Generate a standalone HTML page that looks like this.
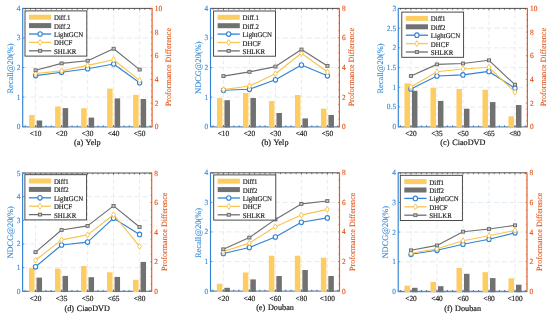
<!DOCTYPE html>
<html><head><meta charset="utf-8"><title>Performance difference charts</title>
<style>
html,body{margin:0;padding:0;background:#fff;}
body{width:550px;height:316px;overflow:hidden;}
svg{display:block;font-family:'Liberation Serif', 'Times New Roman', serif;text-rendering:geometricPrecision;filter:blur(0.35px);}
</style></head><body>
<svg width="550" height="316" viewBox="0 0 550 316">
<rect width="550" height="316" fill="#fff"/>
<g stroke="#e2e2e2" stroke-width="0.7" stroke-dasharray="4 2.5"><line x1="35.65" y1="8.4" x2="35.65" y2="126.7"/><line x1="61.65" y1="8.4" x2="61.65" y2="126.7"/><line x1="87.65" y1="8.4" x2="87.65" y2="126.7"/><line x1="113.65" y1="8.4" x2="113.65" y2="126.7"/><line x1="139.65" y1="8.4" x2="139.65" y2="126.7"/></g>
<g stroke="#d8e7f5" stroke-width="0.8" stroke-dasharray="5 3"><line x1="22.7" y1="97.12" x2="152.1" y2="97.12"/><line x1="22.7" y1="67.55" x2="152.1" y2="67.55"/><line x1="22.7" y1="37.98" x2="152.1" y2="37.98"/></g>
<line x1="22.7" y1="8.4" x2="152.1" y2="8.4" stroke="#3c3c3c" stroke-width="0.9"/>
<line x1="22.7" y1="126.8" x2="152.1" y2="126.8" stroke="#5a8cc6" stroke-width="1.3"/>
<g stroke="#3c3c3c" stroke-width="0.7"><line x1="25.25" y1="8.4" x2="25.25" y2="9.8"/><line x1="25.25" y1="126.7" x2="25.25" y2="125.3"/><line x1="30.45" y1="8.4" x2="30.45" y2="9.8"/><line x1="30.45" y1="126.7" x2="30.45" y2="125.3"/><line x1="35.65" y1="8.4" x2="35.65" y2="10.2"/><line x1="35.65" y1="126.7" x2="35.65" y2="124.9"/><line x1="40.85" y1="8.4" x2="40.85" y2="9.8"/><line x1="40.85" y1="126.7" x2="40.85" y2="125.3"/><line x1="46.05" y1="8.4" x2="46.05" y2="9.8"/><line x1="46.05" y1="126.7" x2="46.05" y2="125.3"/><line x1="51.25" y1="8.4" x2="51.25" y2="9.8"/><line x1="51.25" y1="126.7" x2="51.25" y2="125.3"/><line x1="56.45" y1="8.4" x2="56.45" y2="9.8"/><line x1="56.45" y1="126.7" x2="56.45" y2="125.3"/><line x1="61.65" y1="8.4" x2="61.65" y2="10.2"/><line x1="61.65" y1="126.7" x2="61.65" y2="124.9"/><line x1="66.85" y1="8.4" x2="66.85" y2="9.8"/><line x1="66.85" y1="126.7" x2="66.85" y2="125.3"/><line x1="72.05" y1="8.4" x2="72.05" y2="9.8"/><line x1="72.05" y1="126.7" x2="72.05" y2="125.3"/><line x1="77.25" y1="8.4" x2="77.25" y2="9.8"/><line x1="77.25" y1="126.7" x2="77.25" y2="125.3"/><line x1="82.45" y1="8.4" x2="82.45" y2="9.8"/><line x1="82.45" y1="126.7" x2="82.45" y2="125.3"/><line x1="87.65" y1="8.4" x2="87.65" y2="10.2"/><line x1="87.65" y1="126.7" x2="87.65" y2="124.9"/><line x1="92.85" y1="8.4" x2="92.85" y2="9.8"/><line x1="92.85" y1="126.7" x2="92.85" y2="125.3"/><line x1="98.05" y1="8.4" x2="98.05" y2="9.8"/><line x1="98.05" y1="126.7" x2="98.05" y2="125.3"/><line x1="103.25" y1="8.4" x2="103.25" y2="9.8"/><line x1="103.25" y1="126.7" x2="103.25" y2="125.3"/><line x1="108.45" y1="8.4" x2="108.45" y2="9.8"/><line x1="108.45" y1="126.7" x2="108.45" y2="125.3"/><line x1="113.65" y1="8.4" x2="113.65" y2="10.2"/><line x1="113.65" y1="126.7" x2="113.65" y2="124.9"/><line x1="118.85" y1="8.4" x2="118.85" y2="9.8"/><line x1="118.85" y1="126.7" x2="118.85" y2="125.3"/><line x1="124.05" y1="8.4" x2="124.05" y2="9.8"/><line x1="124.05" y1="126.7" x2="124.05" y2="125.3"/><line x1="129.25" y1="8.4" x2="129.25" y2="9.8"/><line x1="129.25" y1="126.7" x2="129.25" y2="125.3"/><line x1="134.45" y1="8.4" x2="134.45" y2="9.8"/><line x1="134.45" y1="126.7" x2="134.45" y2="125.3"/><line x1="139.65" y1="8.4" x2="139.65" y2="10.2"/><line x1="139.65" y1="126.7" x2="139.65" y2="124.9"/><line x1="144.85" y1="8.4" x2="144.85" y2="9.8"/><line x1="144.85" y1="126.7" x2="144.85" y2="125.3"/><line x1="150.05" y1="8.4" x2="150.05" y2="9.8"/><line x1="150.05" y1="126.7" x2="150.05" y2="125.3"/></g>
<rect x="29.15" y="115.1" width="5.5" height="12.4" fill="#fdcc63"/><rect x="36.65" y="120.5" width="5.5" height="7" fill="#717171"/><rect x="55.15" y="106.5" width="5.5" height="21" fill="#fdcc63"/><rect x="62.65" y="108.1" width="5.5" height="19.4" fill="#717171"/><rect x="81.15" y="108.2" width="5.5" height="19.3" fill="#fdcc63"/><rect x="88.65" y="117.6" width="5.5" height="9.9" fill="#717171"/><rect x="107.15" y="88.6" width="5.5" height="38.9" fill="#fdcc63"/><rect x="114.65" y="98.4" width="5.5" height="29.1" fill="#717171"/><rect x="133.15" y="94.8" width="5.5" height="32.7" fill="#fdcc63"/><rect x="140.65" y="99" width="5.5" height="28.5" fill="#717171"/>
<line x1="22.7" y1="8" x2="22.7" y2="127.2" stroke="#3283d3" stroke-width="1.15"/>
<g stroke="#3283d3" stroke-width="0.8"><line x1="22.7" y1="126.7" x2="24.3" y2="126.7"/><line x1="22.7" y1="97.12" x2="24.3" y2="97.12"/><line x1="22.7" y1="67.55" x2="24.3" y2="67.55"/><line x1="22.7" y1="37.98" x2="24.3" y2="37.98"/><line x1="22.7" y1="8.4" x2="24.3" y2="8.4"/></g>
<text transform="translate(20.5 129.2) scale(1 1.060)" fill="#3d8fd8" stroke="#3d8fd8" stroke-width="0.15" font-size="7.4" text-anchor="end">0</text>
<text transform="translate(20.5 99.62) scale(1 1.060)" fill="#3d8fd8" stroke="#3d8fd8" stroke-width="0.15" font-size="7.4" text-anchor="end">1</text>
<text transform="translate(20.5 70.05) scale(1 1.060)" fill="#3d8fd8" stroke="#3d8fd8" stroke-width="0.15" font-size="7.4" text-anchor="end">2</text>
<text transform="translate(20.5 40.48) scale(1 1.060)" fill="#3d8fd8" stroke="#3d8fd8" stroke-width="0.15" font-size="7.4" text-anchor="end">3</text>
<text transform="translate(20.5 10.9) scale(1 1.060)" fill="#3d8fd8" stroke="#3d8fd8" stroke-width="0.15" font-size="7.4" text-anchor="end">4</text>
<line x1="152.1" y1="8" x2="152.1" y2="127.2" stroke="#e05a22" stroke-width="1.15"/>
<g stroke="#e05a22" stroke-width="0.7"><line x1="152.1" y1="126.7" x2="150.5" y2="126.7"/><line x1="152.1" y1="120.78" x2="151" y2="120.78"/><line x1="152.1" y1="114.87" x2="151" y2="114.87"/><line x1="152.1" y1="108.96" x2="151" y2="108.96"/><line x1="152.1" y1="103.04" x2="150.5" y2="103.04"/><line x1="152.1" y1="97.12" x2="151" y2="97.12"/><line x1="152.1" y1="91.21" x2="151" y2="91.21"/><line x1="152.1" y1="85.3" x2="151" y2="85.3"/><line x1="152.1" y1="79.38" x2="150.5" y2="79.38"/><line x1="152.1" y1="73.47" x2="151" y2="73.47"/><line x1="152.1" y1="67.55" x2="151" y2="67.55"/><line x1="152.1" y1="61.64" x2="151" y2="61.64"/><line x1="152.1" y1="55.72" x2="150.5" y2="55.72"/><line x1="152.1" y1="49.81" x2="151" y2="49.81"/><line x1="152.1" y1="43.89" x2="151" y2="43.89"/><line x1="152.1" y1="37.98" x2="151" y2="37.98"/><line x1="152.1" y1="32.06" x2="150.5" y2="32.06"/><line x1="152.1" y1="26.15" x2="151" y2="26.15"/><line x1="152.1" y1="20.23" x2="151" y2="20.23"/><line x1="152.1" y1="14.32" x2="151" y2="14.32"/><line x1="152.1" y1="8.4" x2="150.5" y2="8.4"/></g>
<text transform="translate(154.7 129.2) scale(1 1.060)" fill="#e0561c" stroke="#e0561c" stroke-width="0.15" font-size="7.4">0</text>
<text transform="translate(154.7 105.54) scale(1 1.060)" fill="#e0561c" stroke="#e0561c" stroke-width="0.15" font-size="7.4">2</text>
<text transform="translate(154.7 81.88) scale(1 1.060)" fill="#e0561c" stroke="#e0561c" stroke-width="0.15" font-size="7.4">4</text>
<text transform="translate(154.7 58.22) scale(1 1.060)" fill="#e0561c" stroke="#e0561c" stroke-width="0.15" font-size="7.4">6</text>
<text transform="translate(154.7 34.56) scale(1 1.060)" fill="#e0561c" stroke="#e0561c" stroke-width="0.15" font-size="7.4">8</text>
<text transform="translate(154.7 10.9) scale(1 1.060)" fill="#e0561c" stroke="#e0561c" stroke-width="0.15" font-size="7.4">10</text>
<polyline points="35.65,75.6 61.65,72.2 87.65,68.7 113.65,64 139.65,82.7" fill="none" stroke="#3283d3" stroke-width="1.15" stroke-linejoin="round"/>
<ellipse cx="35.65" cy="75.6" rx="2.15" ry="2.3" fill="#fff" stroke="#3283d3" stroke-width="1.1"/><ellipse cx="61.65" cy="72.2" rx="2.15" ry="2.3" fill="#fff" stroke="#3283d3" stroke-width="1.1"/><ellipse cx="87.65" cy="68.7" rx="2.15" ry="2.3" fill="#fff" stroke="#3283d3" stroke-width="1.1"/><ellipse cx="113.65" cy="64" rx="2.15" ry="2.3" fill="#fff" stroke="#3283d3" stroke-width="1.1"/><ellipse cx="139.65" cy="82.7" rx="2.15" ry="2.3" fill="#fff" stroke="#3283d3" stroke-width="1.1"/>
<polyline points="35.65,73.5 61.65,70.9 87.65,65.4 113.65,59.8 139.65,80.4" fill="none" stroke="#f7c550" stroke-width="1.15" stroke-linejoin="round"/>
<path d="M35.65 70.6L37.6 73.5L35.65 76.4L33.7 73.5Z" fill="#fff" stroke="#f7c550" stroke-width="1.0"/><path d="M61.65 68L63.6 70.9L61.65 73.8L59.7 70.9Z" fill="#fff" stroke="#f7c550" stroke-width="1.0"/><path d="M87.65 62.5L89.6 65.4L87.65 68.3L85.7 65.4Z" fill="#fff" stroke="#f7c550" stroke-width="1.0"/><path d="M113.65 56.9L115.6 59.8L113.65 62.7L111.7 59.8Z" fill="#fff" stroke="#f7c550" stroke-width="1.0"/><path d="M139.65 77.5L141.6 80.4L139.65 83.3L137.7 80.4Z" fill="#fff" stroke="#f7c550" stroke-width="1.0"/>
<polyline points="35.65,70.3 61.65,63.4 87.65,60.7 113.65,48.7 139.65,69.6" fill="none" stroke="#6e6e6e" stroke-width="1.15" stroke-linejoin="round"/>
<rect x="34.1" y="68.9" width="3.1" height="2.8" fill="#c8c8c8" stroke="#6e6e6e" stroke-width="1.0"/><rect x="60.1" y="62" width="3.1" height="2.8" fill="#c8c8c8" stroke="#6e6e6e" stroke-width="1.0"/><rect x="86.1" y="59.3" width="3.1" height="2.8" fill="#c8c8c8" stroke="#6e6e6e" stroke-width="1.0"/><rect x="112.1" y="47.3" width="3.1" height="2.8" fill="#c8c8c8" stroke="#6e6e6e" stroke-width="1.0"/><rect x="138.1" y="68.2" width="3.1" height="2.8" fill="#c8c8c8" stroke="#6e6e6e" stroke-width="1.0"/>
<text transform="translate(35.65 136) scale(1 1.060)" fill="#202020" stroke="#202020" stroke-width="0.15" font-size="7.4" text-anchor="middle">&lt;10</text>
<text transform="translate(61.65 136) scale(1 1.060)" fill="#202020" stroke="#202020" stroke-width="0.15" font-size="7.4" text-anchor="middle">&lt;20</text>
<text transform="translate(87.65 136) scale(1 1.060)" fill="#202020" stroke="#202020" stroke-width="0.15" font-size="7.4" text-anchor="middle">&lt;30</text>
<text transform="translate(113.65 136) scale(1 1.060)" fill="#202020" stroke="#202020" stroke-width="0.15" font-size="7.4" text-anchor="middle">&lt;40</text>
<text transform="translate(139.65 136) scale(1 1.060)" fill="#202020" stroke="#202020" stroke-width="0.15" font-size="7.4" text-anchor="middle">&lt;50</text>
<text transform="translate(87.4 145)" fill="#202020" stroke="#202020" stroke-width="0.2" font-size="8.2" text-anchor="middle" word-spacing="0.7">(a) Yelp</text>
<text transform="translate(12.7 68.55) rotate(-90)" fill="#3d8fd8" stroke="#3d8fd8" stroke-width="0.12" font-size="8.4" text-anchor="middle">Recall@20(%)</text>
<text transform="translate(171.15 67.1) rotate(-90)" fill="#e0561c" stroke="#e0561c" stroke-width="0.12" font-size="8.1" text-anchor="middle">Proformance Difference</text>
<rect x="25" y="10.9" width="61.8" height="45.2" fill="#fff" stroke="#383838" stroke-width="0.9"/>
<rect x="29" y="14.7" width="22.2" height="5" fill="#fdcc63"/>
<rect x="29" y="23.1" width="22.2" height="5" fill="#717171"/>
<line x1="29" y1="34" x2="51.2" y2="34" stroke="#3283d3" stroke-width="1.3"/>
<ellipse cx="40.1" cy="34" rx="2.15" ry="2.3" fill="#fff" stroke="#3283d3" stroke-width="1.1"/>
<line x1="29" y1="42.4" x2="51.2" y2="42.4" stroke="#f7c550" stroke-width="1.3"/>
<path d="M40.1 39.5L42.05 42.4L40.1 45.3L38.15 42.4Z" fill="#fff" stroke="#f7c550" stroke-width="1.0"/>
<line x1="29" y1="50.8" x2="51.2" y2="50.8" stroke="#6e6e6e" stroke-width="1.3"/>
<rect x="38.55" y="49.4" width="3.1" height="2.8" fill="#c8c8c8" stroke="#6e6e6e" stroke-width="1.0"/>
<text transform="translate(54 20.2) scale(1 1.060)" fill="#202020" stroke="#202020" stroke-width="0.15" font-size="6.85">Diff.1</text>
<text transform="translate(54 28.6) scale(1 1.060)" fill="#202020" stroke="#202020" stroke-width="0.15" font-size="6.85">Diff.2</text>
<text transform="translate(54 37) scale(1 1.060)" fill="#202020" stroke="#202020" stroke-width="0.15" font-size="6.85">LightGCN</text>
<text transform="translate(54 45.4) scale(1 1.060)" fill="#202020" stroke="#202020" stroke-width="0.15" font-size="6.85">DHCF</text>
<text transform="translate(54 53.8) scale(1 1.060)" fill="#202020" stroke="#202020" stroke-width="0.15" font-size="6.85">SHLKR</text>
<g stroke="#e2e2e2" stroke-width="0.7" stroke-dasharray="4 2.5"><line x1="223.45" y1="8.4" x2="223.45" y2="126.7"/><line x1="249.45" y1="8.4" x2="249.45" y2="126.7"/><line x1="275.45" y1="8.4" x2="275.45" y2="126.7"/><line x1="301.45" y1="8.4" x2="301.45" y2="126.7"/><line x1="327.45" y1="8.4" x2="327.45" y2="126.7"/></g>
<g stroke="#d8e7f5" stroke-width="0.8" stroke-dasharray="5 3"><line x1="210.5" y1="97.12" x2="339.4" y2="97.12"/><line x1="210.5" y1="67.55" x2="339.4" y2="67.55"/><line x1="210.5" y1="37.98" x2="339.4" y2="37.98"/></g>
<line x1="210.5" y1="8.4" x2="339.4" y2="8.4" stroke="#3c3c3c" stroke-width="0.9"/>
<line x1="210.5" y1="126.8" x2="339.4" y2="126.8" stroke="#5a8cc6" stroke-width="1.3"/>
<g stroke="#3c3c3c" stroke-width="0.7"><line x1="213.05" y1="8.4" x2="213.05" y2="9.8"/><line x1="213.05" y1="126.7" x2="213.05" y2="125.3"/><line x1="218.25" y1="8.4" x2="218.25" y2="9.8"/><line x1="218.25" y1="126.7" x2="218.25" y2="125.3"/><line x1="223.45" y1="8.4" x2="223.45" y2="10.2"/><line x1="223.45" y1="126.7" x2="223.45" y2="124.9"/><line x1="228.65" y1="8.4" x2="228.65" y2="9.8"/><line x1="228.65" y1="126.7" x2="228.65" y2="125.3"/><line x1="233.85" y1="8.4" x2="233.85" y2="9.8"/><line x1="233.85" y1="126.7" x2="233.85" y2="125.3"/><line x1="239.05" y1="8.4" x2="239.05" y2="9.8"/><line x1="239.05" y1="126.7" x2="239.05" y2="125.3"/><line x1="244.25" y1="8.4" x2="244.25" y2="9.8"/><line x1="244.25" y1="126.7" x2="244.25" y2="125.3"/><line x1="249.45" y1="8.4" x2="249.45" y2="10.2"/><line x1="249.45" y1="126.7" x2="249.45" y2="124.9"/><line x1="254.65" y1="8.4" x2="254.65" y2="9.8"/><line x1="254.65" y1="126.7" x2="254.65" y2="125.3"/><line x1="259.85" y1="8.4" x2="259.85" y2="9.8"/><line x1="259.85" y1="126.7" x2="259.85" y2="125.3"/><line x1="265.05" y1="8.4" x2="265.05" y2="9.8"/><line x1="265.05" y1="126.7" x2="265.05" y2="125.3"/><line x1="270.25" y1="8.4" x2="270.25" y2="9.8"/><line x1="270.25" y1="126.7" x2="270.25" y2="125.3"/><line x1="275.45" y1="8.4" x2="275.45" y2="10.2"/><line x1="275.45" y1="126.7" x2="275.45" y2="124.9"/><line x1="280.65" y1="8.4" x2="280.65" y2="9.8"/><line x1="280.65" y1="126.7" x2="280.65" y2="125.3"/><line x1="285.85" y1="8.4" x2="285.85" y2="9.8"/><line x1="285.85" y1="126.7" x2="285.85" y2="125.3"/><line x1="291.05" y1="8.4" x2="291.05" y2="9.8"/><line x1="291.05" y1="126.7" x2="291.05" y2="125.3"/><line x1="296.25" y1="8.4" x2="296.25" y2="9.8"/><line x1="296.25" y1="126.7" x2="296.25" y2="125.3"/><line x1="301.45" y1="8.4" x2="301.45" y2="10.2"/><line x1="301.45" y1="126.7" x2="301.45" y2="124.9"/><line x1="306.65" y1="8.4" x2="306.65" y2="9.8"/><line x1="306.65" y1="126.7" x2="306.65" y2="125.3"/><line x1="311.85" y1="8.4" x2="311.85" y2="9.8"/><line x1="311.85" y1="126.7" x2="311.85" y2="125.3"/><line x1="317.05" y1="8.4" x2="317.05" y2="9.8"/><line x1="317.05" y1="126.7" x2="317.05" y2="125.3"/><line x1="322.25" y1="8.4" x2="322.25" y2="9.8"/><line x1="322.25" y1="126.7" x2="322.25" y2="125.3"/><line x1="327.45" y1="8.4" x2="327.45" y2="10.2"/><line x1="327.45" y1="126.7" x2="327.45" y2="124.9"/><line x1="332.65" y1="8.4" x2="332.65" y2="9.8"/><line x1="332.65" y1="126.7" x2="332.65" y2="125.3"/><line x1="337.85" y1="8.4" x2="337.85" y2="9.8"/><line x1="337.85" y1="126.7" x2="337.85" y2="125.3"/></g>
<rect x="216.95" y="98.1" width="5.5" height="29.4" fill="#fdcc63"/><rect x="224.45" y="100.2" width="5.5" height="27.3" fill="#717171"/><rect x="242.95" y="93" width="5.5" height="34.5" fill="#fdcc63"/><rect x="250.45" y="98" width="5.5" height="29.5" fill="#717171"/><rect x="268.95" y="101" width="5.5" height="26.5" fill="#fdcc63"/><rect x="276.45" y="113" width="5.5" height="14.5" fill="#717171"/><rect x="294.95" y="95" width="5.5" height="32.5" fill="#fdcc63"/><rect x="302.45" y="118.4" width="5.5" height="9.1" fill="#717171"/><rect x="320.95" y="108.6" width="5.5" height="18.9" fill="#fdcc63"/><rect x="328.45" y="115" width="5.5" height="12.5" fill="#717171"/>
<line x1="210.5" y1="8" x2="210.5" y2="127.2" stroke="#3283d3" stroke-width="1.15"/>
<g stroke="#3283d3" stroke-width="0.8"><line x1="210.5" y1="126.7" x2="212.1" y2="126.7"/><line x1="210.5" y1="97.12" x2="212.1" y2="97.12"/><line x1="210.5" y1="67.55" x2="212.1" y2="67.55"/><line x1="210.5" y1="37.98" x2="212.1" y2="37.98"/><line x1="210.5" y1="8.4" x2="212.1" y2="8.4"/></g>
<text transform="translate(208.3 129.2) scale(1 1.060)" fill="#3d8fd8" stroke="#3d8fd8" stroke-width="0.15" font-size="7.4" text-anchor="end">0</text>
<text transform="translate(208.3 99.62) scale(1 1.060)" fill="#3d8fd8" stroke="#3d8fd8" stroke-width="0.15" font-size="7.4" text-anchor="end">1</text>
<text transform="translate(208.3 70.05) scale(1 1.060)" fill="#3d8fd8" stroke="#3d8fd8" stroke-width="0.15" font-size="7.4" text-anchor="end">2</text>
<text transform="translate(208.3 40.48) scale(1 1.060)" fill="#3d8fd8" stroke="#3d8fd8" stroke-width="0.15" font-size="7.4" text-anchor="end">3</text>
<text transform="translate(208.3 10.9) scale(1 1.060)" fill="#3d8fd8" stroke="#3d8fd8" stroke-width="0.15" font-size="7.4" text-anchor="end">4</text>
<line x1="339.4" y1="8" x2="339.4" y2="127.2" stroke="#e05a22" stroke-width="1.15"/>
<g stroke="#e05a22" stroke-width="0.7"><line x1="339.4" y1="126.7" x2="337.8" y2="126.7"/><line x1="339.4" y1="119.31" x2="338.3" y2="119.31"/><line x1="339.4" y1="111.91" x2="338.3" y2="111.91"/><line x1="339.4" y1="104.52" x2="338.3" y2="104.52"/><line x1="339.4" y1="97.12" x2="337.8" y2="97.12"/><line x1="339.4" y1="89.73" x2="338.3" y2="89.73"/><line x1="339.4" y1="82.34" x2="338.3" y2="82.34"/><line x1="339.4" y1="74.94" x2="338.3" y2="74.94"/><line x1="339.4" y1="67.55" x2="337.8" y2="67.55"/><line x1="339.4" y1="60.16" x2="338.3" y2="60.16"/><line x1="339.4" y1="52.76" x2="338.3" y2="52.76"/><line x1="339.4" y1="45.37" x2="338.3" y2="45.37"/><line x1="339.4" y1="37.98" x2="337.8" y2="37.98"/><line x1="339.4" y1="30.58" x2="338.3" y2="30.58"/><line x1="339.4" y1="23.19" x2="338.3" y2="23.19"/><line x1="339.4" y1="15.79" x2="338.3" y2="15.79"/><line x1="339.4" y1="8.4" x2="337.8" y2="8.4"/></g>
<text transform="translate(342 129.2) scale(1 1.060)" fill="#e0561c" stroke="#e0561c" stroke-width="0.15" font-size="7.4">0</text>
<text transform="translate(342 99.62) scale(1 1.060)" fill="#e0561c" stroke="#e0561c" stroke-width="0.15" font-size="7.4">2</text>
<text transform="translate(342 70.05) scale(1 1.060)" fill="#e0561c" stroke="#e0561c" stroke-width="0.15" font-size="7.4">4</text>
<text transform="translate(342 40.48) scale(1 1.060)" fill="#e0561c" stroke="#e0561c" stroke-width="0.15" font-size="7.4">6</text>
<text transform="translate(342 10.9) scale(1 1.060)" fill="#e0561c" stroke="#e0561c" stroke-width="0.15" font-size="7.4">8</text>
<polyline points="223.45,90.3 249.45,89.3 275.45,79.8 301.45,65 327.45,75.8" fill="none" stroke="#3283d3" stroke-width="1.15" stroke-linejoin="round"/>
<ellipse cx="223.45" cy="90.3" rx="2.15" ry="2.3" fill="#fff" stroke="#3283d3" stroke-width="1.1"/><ellipse cx="249.45" cy="89.3" rx="2.15" ry="2.3" fill="#fff" stroke="#3283d3" stroke-width="1.1"/><ellipse cx="275.45" cy="79.8" rx="2.15" ry="2.3" fill="#fff" stroke="#3283d3" stroke-width="1.1"/><ellipse cx="301.45" cy="65" rx="2.15" ry="2.3" fill="#fff" stroke="#3283d3" stroke-width="1.1"/><ellipse cx="327.45" cy="75.8" rx="2.15" ry="2.3" fill="#fff" stroke="#3283d3" stroke-width="1.1"/>
<polyline points="223.45,89.6 249.45,86 275.45,73.8 301.45,53.2 327.45,72" fill="none" stroke="#f7c550" stroke-width="1.15" stroke-linejoin="round"/>
<path d="M223.45 86.7L225.4 89.6L223.45 92.5L221.5 89.6Z" fill="#fff" stroke="#f7c550" stroke-width="1.0"/><path d="M249.45 83.1L251.4 86L249.45 88.9L247.5 86Z" fill="#fff" stroke="#f7c550" stroke-width="1.0"/><path d="M275.45 70.9L277.4 73.8L275.45 76.7L273.5 73.8Z" fill="#fff" stroke="#f7c550" stroke-width="1.0"/><path d="M301.45 50.3L303.4 53.2L301.45 56.1L299.5 53.2Z" fill="#fff" stroke="#f7c550" stroke-width="1.0"/><path d="M327.45 69.1L329.4 72L327.45 74.9L325.5 72Z" fill="#fff" stroke="#f7c550" stroke-width="1.0"/>
<polyline points="223.45,76.1 249.45,71.9 275.45,66.6 301.45,49.5 327.45,65.9" fill="none" stroke="#6e6e6e" stroke-width="1.15" stroke-linejoin="round"/>
<rect x="221.9" y="74.7" width="3.1" height="2.8" fill="#c8c8c8" stroke="#6e6e6e" stroke-width="1.0"/><rect x="247.9" y="70.5" width="3.1" height="2.8" fill="#c8c8c8" stroke="#6e6e6e" stroke-width="1.0"/><rect x="273.9" y="65.2" width="3.1" height="2.8" fill="#c8c8c8" stroke="#6e6e6e" stroke-width="1.0"/><rect x="299.9" y="48.1" width="3.1" height="2.8" fill="#c8c8c8" stroke="#6e6e6e" stroke-width="1.0"/><rect x="325.9" y="64.5" width="3.1" height="2.8" fill="#c8c8c8" stroke="#6e6e6e" stroke-width="1.0"/>
<text transform="translate(223.45 136) scale(1 1.060)" fill="#202020" stroke="#202020" stroke-width="0.15" font-size="7.4" text-anchor="middle">&lt;10</text>
<text transform="translate(249.45 136) scale(1 1.060)" fill="#202020" stroke="#202020" stroke-width="0.15" font-size="7.4" text-anchor="middle">&lt;20</text>
<text transform="translate(275.45 136) scale(1 1.060)" fill="#202020" stroke="#202020" stroke-width="0.15" font-size="7.4" text-anchor="middle">&lt;30</text>
<text transform="translate(301.45 136) scale(1 1.060)" fill="#202020" stroke="#202020" stroke-width="0.15" font-size="7.4" text-anchor="middle">&lt;40</text>
<text transform="translate(327.45 136) scale(1 1.060)" fill="#202020" stroke="#202020" stroke-width="0.15" font-size="7.4" text-anchor="middle">&lt;50</text>
<text transform="translate(274.95 145)" fill="#202020" stroke="#202020" stroke-width="0.2" font-size="8.2" text-anchor="middle" word-spacing="0.7">(b) Yelp</text>
<text transform="translate(200.5 67.7) rotate(-90)" fill="#3d8fd8" stroke="#3d8fd8" stroke-width="0.12" font-size="8.4" text-anchor="middle">NDCG@20(%)</text>
<text transform="translate(354.4 67.1) rotate(-90)" fill="#e0561c" stroke="#e0561c" stroke-width="0.12" font-size="8.1" text-anchor="middle">Proformance Difference</text>
<rect x="213.6" y="11" width="61.9" height="45.2" fill="#fff" stroke="#383838" stroke-width="0.9"/>
<rect x="217.6" y="14.8" width="22.2" height="5" fill="#fdcc63"/>
<rect x="217.6" y="23.2" width="22.2" height="5" fill="#717171"/>
<line x1="217.6" y1="34.1" x2="239.8" y2="34.1" stroke="#3283d3" stroke-width="1.3"/>
<ellipse cx="228.7" cy="34.1" rx="2.15" ry="2.3" fill="#fff" stroke="#3283d3" stroke-width="1.1"/>
<line x1="217.6" y1="42.5" x2="239.8" y2="42.5" stroke="#f7c550" stroke-width="1.3"/>
<path d="M228.7 39.6L230.65 42.5L228.7 45.4L226.75 42.5Z" fill="#fff" stroke="#f7c550" stroke-width="1.0"/>
<line x1="217.6" y1="50.9" x2="239.8" y2="50.9" stroke="#6e6e6e" stroke-width="1.3"/>
<rect x="227.15" y="49.5" width="3.1" height="2.8" fill="#c8c8c8" stroke="#6e6e6e" stroke-width="1.0"/>
<text transform="translate(242.6 20.3) scale(1 1.060)" fill="#202020" stroke="#202020" stroke-width="0.15" font-size="6.85">Diff.1</text>
<text transform="translate(242.6 28.7) scale(1 1.060)" fill="#202020" stroke="#202020" stroke-width="0.15" font-size="6.85">Diff.2</text>
<text transform="translate(242.6 37.1) scale(1 1.060)" fill="#202020" stroke="#202020" stroke-width="0.15" font-size="6.85">LightGCN</text>
<text transform="translate(242.6 45.5) scale(1 1.060)" fill="#202020" stroke="#202020" stroke-width="0.15" font-size="6.85">DHCF</text>
<text transform="translate(242.6 53.9) scale(1 1.060)" fill="#202020" stroke="#202020" stroke-width="0.15" font-size="6.85">SHLKR</text>
<g stroke="#e2e2e2" stroke-width="0.7" stroke-dasharray="4 2.5"><line x1="410.95" y1="8.4" x2="410.95" y2="126.7"/><line x1="436.95" y1="8.4" x2="436.95" y2="126.7"/><line x1="462.95" y1="8.4" x2="462.95" y2="126.7"/><line x1="488.95" y1="8.4" x2="488.95" y2="126.7"/><line x1="514.95" y1="8.4" x2="514.95" y2="126.7"/></g>
<g stroke="#d8e7f5" stroke-width="0.8" stroke-dasharray="5 3"><line x1="398.3" y1="106.98" x2="527.4" y2="106.98"/><line x1="398.3" y1="87.27" x2="527.4" y2="87.27"/><line x1="398.3" y1="67.55" x2="527.4" y2="67.55"/><line x1="398.3" y1="47.83" x2="527.4" y2="47.83"/><line x1="398.3" y1="28.12" x2="527.4" y2="28.12"/></g>
<line x1="398.3" y1="8.4" x2="527.4" y2="8.4" stroke="#3c3c3c" stroke-width="0.9"/>
<line x1="398.3" y1="126.8" x2="527.4" y2="126.8" stroke="#5a8cc6" stroke-width="1.3"/>
<g stroke="#3c3c3c" stroke-width="0.7"><line x1="400.55" y1="8.4" x2="400.55" y2="9.8"/><line x1="400.55" y1="126.7" x2="400.55" y2="125.3"/><line x1="405.75" y1="8.4" x2="405.75" y2="9.8"/><line x1="405.75" y1="126.7" x2="405.75" y2="125.3"/><line x1="410.95" y1="8.4" x2="410.95" y2="10.2"/><line x1="410.95" y1="126.7" x2="410.95" y2="124.9"/><line x1="416.15" y1="8.4" x2="416.15" y2="9.8"/><line x1="416.15" y1="126.7" x2="416.15" y2="125.3"/><line x1="421.35" y1="8.4" x2="421.35" y2="9.8"/><line x1="421.35" y1="126.7" x2="421.35" y2="125.3"/><line x1="426.55" y1="8.4" x2="426.55" y2="9.8"/><line x1="426.55" y1="126.7" x2="426.55" y2="125.3"/><line x1="431.75" y1="8.4" x2="431.75" y2="9.8"/><line x1="431.75" y1="126.7" x2="431.75" y2="125.3"/><line x1="436.95" y1="8.4" x2="436.95" y2="10.2"/><line x1="436.95" y1="126.7" x2="436.95" y2="124.9"/><line x1="442.15" y1="8.4" x2="442.15" y2="9.8"/><line x1="442.15" y1="126.7" x2="442.15" y2="125.3"/><line x1="447.35" y1="8.4" x2="447.35" y2="9.8"/><line x1="447.35" y1="126.7" x2="447.35" y2="125.3"/><line x1="452.55" y1="8.4" x2="452.55" y2="9.8"/><line x1="452.55" y1="126.7" x2="452.55" y2="125.3"/><line x1="457.75" y1="8.4" x2="457.75" y2="9.8"/><line x1="457.75" y1="126.7" x2="457.75" y2="125.3"/><line x1="462.95" y1="8.4" x2="462.95" y2="10.2"/><line x1="462.95" y1="126.7" x2="462.95" y2="124.9"/><line x1="468.15" y1="8.4" x2="468.15" y2="9.8"/><line x1="468.15" y1="126.7" x2="468.15" y2="125.3"/><line x1="473.35" y1="8.4" x2="473.35" y2="9.8"/><line x1="473.35" y1="126.7" x2="473.35" y2="125.3"/><line x1="478.55" y1="8.4" x2="478.55" y2="9.8"/><line x1="478.55" y1="126.7" x2="478.55" y2="125.3"/><line x1="483.75" y1="8.4" x2="483.75" y2="9.8"/><line x1="483.75" y1="126.7" x2="483.75" y2="125.3"/><line x1="488.95" y1="8.4" x2="488.95" y2="10.2"/><line x1="488.95" y1="126.7" x2="488.95" y2="124.9"/><line x1="494.15" y1="8.4" x2="494.15" y2="9.8"/><line x1="494.15" y1="126.7" x2="494.15" y2="125.3"/><line x1="499.35" y1="8.4" x2="499.35" y2="9.8"/><line x1="499.35" y1="126.7" x2="499.35" y2="125.3"/><line x1="504.55" y1="8.4" x2="504.55" y2="9.8"/><line x1="504.55" y1="126.7" x2="504.55" y2="125.3"/><line x1="509.75" y1="8.4" x2="509.75" y2="9.8"/><line x1="509.75" y1="126.7" x2="509.75" y2="125.3"/><line x1="514.95" y1="8.4" x2="514.95" y2="10.2"/><line x1="514.95" y1="126.7" x2="514.95" y2="124.9"/><line x1="520.15" y1="8.4" x2="520.15" y2="9.8"/><line x1="520.15" y1="126.7" x2="520.15" y2="125.3"/><line x1="525.35" y1="8.4" x2="525.35" y2="9.8"/><line x1="525.35" y1="126.7" x2="525.35" y2="125.3"/></g>
<rect x="404.45" y="83.4" width="5.5" height="44.1" fill="#fdcc63"/><rect x="411.95" y="90.8" width="5.5" height="36.7" fill="#717171"/><rect x="430.45" y="87.9" width="5.5" height="39.6" fill="#fdcc63"/><rect x="437.95" y="100.9" width="5.5" height="26.6" fill="#717171"/><rect x="456.45" y="89.1" width="5.5" height="38.4" fill="#fdcc63"/><rect x="463.95" y="108.7" width="5.5" height="18.8" fill="#717171"/><rect x="482.45" y="89.8" width="5.5" height="37.7" fill="#fdcc63"/><rect x="489.95" y="102.1" width="5.5" height="25.4" fill="#717171"/><rect x="508.45" y="116.3" width="5.5" height="11.2" fill="#fdcc63"/><rect x="515.95" y="105" width="5.5" height="22.5" fill="#717171"/>
<line x1="398.3" y1="8" x2="398.3" y2="127.2" stroke="#3283d3" stroke-width="1.15"/>
<g stroke="#3283d3" stroke-width="0.8"><line x1="398.3" y1="126.7" x2="399.9" y2="126.7"/><line x1="398.3" y1="106.98" x2="399.9" y2="106.98"/><line x1="398.3" y1="87.27" x2="399.9" y2="87.27"/><line x1="398.3" y1="67.55" x2="399.9" y2="67.55"/><line x1="398.3" y1="47.83" x2="399.9" y2="47.83"/><line x1="398.3" y1="28.12" x2="399.9" y2="28.12"/><line x1="398.3" y1="8.4" x2="399.9" y2="8.4"/></g>
<text transform="translate(396.1 129.2) scale(1 1.060)" fill="#3d8fd8" stroke="#3d8fd8" stroke-width="0.15" font-size="7.4" text-anchor="end">0</text>
<text transform="translate(396.1 109.48) scale(1 1.060)" fill="#3d8fd8" stroke="#3d8fd8" stroke-width="0.15" font-size="7.4" text-anchor="end">0.5</text>
<text transform="translate(396.1 89.77) scale(1 1.060)" fill="#3d8fd8" stroke="#3d8fd8" stroke-width="0.15" font-size="7.4" text-anchor="end">1</text>
<text transform="translate(396.1 70.05) scale(1 1.060)" fill="#3d8fd8" stroke="#3d8fd8" stroke-width="0.15" font-size="7.4" text-anchor="end">1.5</text>
<text transform="translate(396.1 50.33) scale(1 1.060)" fill="#3d8fd8" stroke="#3d8fd8" stroke-width="0.15" font-size="7.4" text-anchor="end">2</text>
<text transform="translate(396.1 30.62) scale(1 1.060)" fill="#3d8fd8" stroke="#3d8fd8" stroke-width="0.15" font-size="7.4" text-anchor="end">2.5</text>
<text transform="translate(396.1 10.9) scale(1 1.060)" fill="#3d8fd8" stroke="#3d8fd8" stroke-width="0.15" font-size="7.4" text-anchor="end">3</text>
<line x1="527.4" y1="8" x2="527.4" y2="127.2" stroke="#e05a22" stroke-width="1.15"/>
<g stroke="#e05a22" stroke-width="0.7"><line x1="527.4" y1="126.7" x2="525.8" y2="126.7"/><line x1="527.4" y1="120.78" x2="526.3" y2="120.78"/><line x1="527.4" y1="114.87" x2="526.3" y2="114.87"/><line x1="527.4" y1="108.96" x2="526.3" y2="108.96"/><line x1="527.4" y1="103.04" x2="525.8" y2="103.04"/><line x1="527.4" y1="97.12" x2="526.3" y2="97.12"/><line x1="527.4" y1="91.21" x2="526.3" y2="91.21"/><line x1="527.4" y1="85.3" x2="526.3" y2="85.3"/><line x1="527.4" y1="79.38" x2="525.8" y2="79.38"/><line x1="527.4" y1="73.47" x2="526.3" y2="73.47"/><line x1="527.4" y1="67.55" x2="526.3" y2="67.55"/><line x1="527.4" y1="61.64" x2="526.3" y2="61.64"/><line x1="527.4" y1="55.72" x2="525.8" y2="55.72"/><line x1="527.4" y1="49.81" x2="526.3" y2="49.81"/><line x1="527.4" y1="43.89" x2="526.3" y2="43.89"/><line x1="527.4" y1="37.98" x2="526.3" y2="37.98"/><line x1="527.4" y1="32.06" x2="525.8" y2="32.06"/><line x1="527.4" y1="26.15" x2="526.3" y2="26.15"/><line x1="527.4" y1="20.23" x2="526.3" y2="20.23"/><line x1="527.4" y1="14.32" x2="526.3" y2="14.32"/><line x1="527.4" y1="8.4" x2="525.8" y2="8.4"/></g>
<text transform="translate(530 129.2) scale(1 1.060)" fill="#e0561c" stroke="#e0561c" stroke-width="0.15" font-size="7.4">0</text>
<text transform="translate(530 105.54) scale(1 1.060)" fill="#e0561c" stroke="#e0561c" stroke-width="0.15" font-size="7.4">2</text>
<text transform="translate(530 81.88) scale(1 1.060)" fill="#e0561c" stroke="#e0561c" stroke-width="0.15" font-size="7.4">4</text>
<text transform="translate(530 58.22) scale(1 1.060)" fill="#e0561c" stroke="#e0561c" stroke-width="0.15" font-size="7.4">6</text>
<text transform="translate(530 34.56) scale(1 1.060)" fill="#e0561c" stroke="#e0561c" stroke-width="0.15" font-size="7.4">8</text>
<text transform="translate(530 10.9) scale(1 1.060)" fill="#e0561c" stroke="#e0561c" stroke-width="0.15" font-size="7.4">10</text>
<polyline points="410.95,88.9 436.95,76 462.95,74.9 488.95,71.4 514.95,88.2" fill="none" stroke="#3283d3" stroke-width="1.15" stroke-linejoin="round"/>
<ellipse cx="410.95" cy="88.9" rx="2.15" ry="2.3" fill="#fff" stroke="#3283d3" stroke-width="1.1"/><ellipse cx="436.95" cy="76" rx="2.15" ry="2.3" fill="#fff" stroke="#3283d3" stroke-width="1.1"/><ellipse cx="462.95" cy="74.9" rx="2.15" ry="2.3" fill="#fff" stroke="#3283d3" stroke-width="1.1"/><ellipse cx="488.95" cy="71.4" rx="2.15" ry="2.3" fill="#fff" stroke="#3283d3" stroke-width="1.1"/><ellipse cx="514.95" cy="88.2" rx="2.15" ry="2.3" fill="#fff" stroke="#3283d3" stroke-width="1.1"/>
<polyline points="410.95,87 436.95,71.8 462.95,69 488.95,67.3 514.95,92.1" fill="none" stroke="#f7c550" stroke-width="1.15" stroke-linejoin="round"/>
<path d="M410.95 84.1L412.9 87L410.95 89.9L409 87Z" fill="#fff" stroke="#f7c550" stroke-width="1.0"/><path d="M436.95 68.9L438.9 71.8L436.95 74.7L435 71.8Z" fill="#fff" stroke="#f7c550" stroke-width="1.0"/><path d="M462.95 66.1L464.9 69L462.95 71.9L461 69Z" fill="#fff" stroke="#f7c550" stroke-width="1.0"/><path d="M488.95 64.4L490.9 67.3L488.95 70.2L487 67.3Z" fill="#fff" stroke="#f7c550" stroke-width="1.0"/><path d="M514.95 89.2L516.9 92.1L514.95 95L513 92.1Z" fill="#fff" stroke="#f7c550" stroke-width="1.0"/>
<polyline points="410.95,76 436.95,64.4 462.95,63.5 488.95,60.3 514.95,84.7" fill="none" stroke="#6e6e6e" stroke-width="1.15" stroke-linejoin="round"/>
<rect x="409.4" y="74.6" width="3.1" height="2.8" fill="#c8c8c8" stroke="#6e6e6e" stroke-width="1.0"/><rect x="435.4" y="63" width="3.1" height="2.8" fill="#c8c8c8" stroke="#6e6e6e" stroke-width="1.0"/><rect x="461.4" y="62.1" width="3.1" height="2.8" fill="#c8c8c8" stroke="#6e6e6e" stroke-width="1.0"/><rect x="487.4" y="58.9" width="3.1" height="2.8" fill="#c8c8c8" stroke="#6e6e6e" stroke-width="1.0"/><rect x="513.4" y="83.3" width="3.1" height="2.8" fill="#c8c8c8" stroke="#6e6e6e" stroke-width="1.0"/>
<text transform="translate(410.95 136) scale(1 1.060)" fill="#202020" stroke="#202020" stroke-width="0.15" font-size="7.4" text-anchor="middle">&lt;20</text>
<text transform="translate(436.95 136) scale(1 1.060)" fill="#202020" stroke="#202020" stroke-width="0.15" font-size="7.4" text-anchor="middle">&lt;35</text>
<text transform="translate(462.95 136) scale(1 1.060)" fill="#202020" stroke="#202020" stroke-width="0.15" font-size="7.4" text-anchor="middle">&lt;50</text>
<text transform="translate(488.95 136) scale(1 1.060)" fill="#202020" stroke="#202020" stroke-width="0.15" font-size="7.4" text-anchor="middle">&lt;65</text>
<text transform="translate(514.95 136) scale(1 1.060)" fill="#202020" stroke="#202020" stroke-width="0.15" font-size="7.4" text-anchor="middle">&lt;80</text>
<text transform="translate(462.85 145)" fill="#202020" stroke="#202020" stroke-width="0.2" font-size="8.2" text-anchor="middle" word-spacing="0.7">(c) CiaoDVD</text>
<text transform="translate(383.1 68.55) rotate(-90)" fill="#3d8fd8" stroke="#3d8fd8" stroke-width="0.12" font-size="8.4" text-anchor="middle">Recall@20(%)</text>
<text transform="translate(546.45 67.1) rotate(-90)" fill="#e0561c" stroke="#e0561c" stroke-width="0.12" font-size="8.1" text-anchor="middle">Proformance Difference</text>
<rect x="401.8" y="12.1" width="61.8" height="45.2" fill="#fff" stroke="#383838" stroke-width="0.9"/>
<rect x="405.8" y="15.9" width="22.2" height="5" fill="#fdcc63"/>
<rect x="405.8" y="24.3" width="22.2" height="5" fill="#717171"/>
<line x1="405.8" y1="35.2" x2="428" y2="35.2" stroke="#3283d3" stroke-width="1.3"/>
<ellipse cx="416.9" cy="35.2" rx="2.15" ry="2.3" fill="#fff" stroke="#3283d3" stroke-width="1.1"/>
<line x1="405.8" y1="43.6" x2="428" y2="43.6" stroke="#f7c550" stroke-width="1.3"/>
<path d="M416.9 40.7L418.85 43.6L416.9 46.5L414.95 43.6Z" fill="#fff" stroke="#f7c550" stroke-width="1.0"/>
<line x1="405.8" y1="52" x2="428" y2="52" stroke="#6e6e6e" stroke-width="1.3"/>
<rect x="415.35" y="50.6" width="3.1" height="2.8" fill="#c8c8c8" stroke="#6e6e6e" stroke-width="1.0"/>
<text transform="translate(430.8 21.4) scale(1 1.060)" fill="#202020" stroke="#202020" stroke-width="0.15" font-size="6.85">Diff1</text>
<text transform="translate(430.8 29.8) scale(1 1.060)" fill="#202020" stroke="#202020" stroke-width="0.15" font-size="6.85">Diff2</text>
<text transform="translate(430.8 38.2) scale(1 1.060)" fill="#202020" stroke="#202020" stroke-width="0.15" font-size="6.85">LightGCN</text>
<text transform="translate(430.8 46.6) scale(1 1.060)" fill="#202020" stroke="#202020" stroke-width="0.15" font-size="6.85">DHCF</text>
<text transform="translate(430.8 55) scale(1 1.060)" fill="#202020" stroke="#202020" stroke-width="0.15" font-size="6.85">SHLKR</text>
<g stroke="#e2e2e2" stroke-width="0.7" stroke-dasharray="4 2.5"><line x1="35.55" y1="173" x2="35.55" y2="291.3"/><line x1="61.55" y1="173" x2="61.55" y2="291.3"/><line x1="87.55" y1="173" x2="87.55" y2="291.3"/><line x1="113.55" y1="173" x2="113.55" y2="291.3"/><line x1="139.55" y1="173" x2="139.55" y2="291.3"/></g>
<g stroke="#d8e7f5" stroke-width="0.8" stroke-dasharray="5 3"><line x1="22.6" y1="267.64" x2="151.7" y2="267.64"/><line x1="22.6" y1="243.98" x2="151.7" y2="243.98"/><line x1="22.6" y1="220.32" x2="151.7" y2="220.32"/><line x1="22.6" y1="196.66" x2="151.7" y2="196.66"/></g>
<line x1="22.6" y1="173" x2="151.7" y2="173" stroke="#3c3c3c" stroke-width="0.9"/>
<line x1="22.6" y1="291.4" x2="151.7" y2="291.4" stroke="#5a8cc6" stroke-width="1.3"/>
<g stroke="#3c3c3c" stroke-width="0.7"><line x1="25.15" y1="173" x2="25.15" y2="174.4"/><line x1="25.15" y1="291.3" x2="25.15" y2="289.9"/><line x1="30.35" y1="173" x2="30.35" y2="174.4"/><line x1="30.35" y1="291.3" x2="30.35" y2="289.9"/><line x1="35.55" y1="173" x2="35.55" y2="174.8"/><line x1="35.55" y1="291.3" x2="35.55" y2="289.5"/><line x1="40.75" y1="173" x2="40.75" y2="174.4"/><line x1="40.75" y1="291.3" x2="40.75" y2="289.9"/><line x1="45.95" y1="173" x2="45.95" y2="174.4"/><line x1="45.95" y1="291.3" x2="45.95" y2="289.9"/><line x1="51.15" y1="173" x2="51.15" y2="174.4"/><line x1="51.15" y1="291.3" x2="51.15" y2="289.9"/><line x1="56.35" y1="173" x2="56.35" y2="174.4"/><line x1="56.35" y1="291.3" x2="56.35" y2="289.9"/><line x1="61.55" y1="173" x2="61.55" y2="174.8"/><line x1="61.55" y1="291.3" x2="61.55" y2="289.5"/><line x1="66.75" y1="173" x2="66.75" y2="174.4"/><line x1="66.75" y1="291.3" x2="66.75" y2="289.9"/><line x1="71.95" y1="173" x2="71.95" y2="174.4"/><line x1="71.95" y1="291.3" x2="71.95" y2="289.9"/><line x1="77.15" y1="173" x2="77.15" y2="174.4"/><line x1="77.15" y1="291.3" x2="77.15" y2="289.9"/><line x1="82.35" y1="173" x2="82.35" y2="174.4"/><line x1="82.35" y1="291.3" x2="82.35" y2="289.9"/><line x1="87.55" y1="173" x2="87.55" y2="174.8"/><line x1="87.55" y1="291.3" x2="87.55" y2="289.5"/><line x1="92.75" y1="173" x2="92.75" y2="174.4"/><line x1="92.75" y1="291.3" x2="92.75" y2="289.9"/><line x1="97.95" y1="173" x2="97.95" y2="174.4"/><line x1="97.95" y1="291.3" x2="97.95" y2="289.9"/><line x1="103.15" y1="173" x2="103.15" y2="174.4"/><line x1="103.15" y1="291.3" x2="103.15" y2="289.9"/><line x1="108.35" y1="173" x2="108.35" y2="174.4"/><line x1="108.35" y1="291.3" x2="108.35" y2="289.9"/><line x1="113.55" y1="173" x2="113.55" y2="174.8"/><line x1="113.55" y1="291.3" x2="113.55" y2="289.5"/><line x1="118.75" y1="173" x2="118.75" y2="174.4"/><line x1="118.75" y1="291.3" x2="118.75" y2="289.9"/><line x1="123.95" y1="173" x2="123.95" y2="174.4"/><line x1="123.95" y1="291.3" x2="123.95" y2="289.9"/><line x1="129.15" y1="173" x2="129.15" y2="174.4"/><line x1="129.15" y1="291.3" x2="129.15" y2="289.9"/><line x1="134.35" y1="173" x2="134.35" y2="174.4"/><line x1="134.35" y1="291.3" x2="134.35" y2="289.9"/><line x1="139.55" y1="173" x2="139.55" y2="174.8"/><line x1="139.55" y1="291.3" x2="139.55" y2="289.5"/><line x1="144.75" y1="173" x2="144.75" y2="174.4"/><line x1="144.75" y1="291.3" x2="144.75" y2="289.9"/><line x1="149.95" y1="173" x2="149.95" y2="174.4"/><line x1="149.95" y1="291.3" x2="149.95" y2="289.9"/></g>
<rect x="29.05" y="268.1" width="5.5" height="24" fill="#fdcc63"/><rect x="36.55" y="277.6" width="5.5" height="14.5" fill="#717171"/><rect x="55.05" y="268.6" width="5.5" height="23.5" fill="#fdcc63"/><rect x="62.55" y="275.9" width="5.5" height="16.2" fill="#717171"/><rect x="81.05" y="265.9" width="5.5" height="26.2" fill="#fdcc63"/><rect x="88.55" y="277.2" width="5.5" height="14.9" fill="#717171"/><rect x="107.05" y="272.3" width="5.5" height="19.8" fill="#fdcc63"/><rect x="114.55" y="276.9" width="5.5" height="15.2" fill="#717171"/><rect x="133.05" y="279.8" width="5.5" height="12.3" fill="#fdcc63"/><rect x="140.55" y="261.9" width="5.5" height="30.2" fill="#717171"/>
<line x1="22.6" y1="172.6" x2="22.6" y2="291.8" stroke="#3283d3" stroke-width="1.15"/>
<g stroke="#3283d3" stroke-width="0.8"><line x1="22.6" y1="291.3" x2="24.2" y2="291.3"/><line x1="22.6" y1="267.64" x2="24.2" y2="267.64"/><line x1="22.6" y1="243.98" x2="24.2" y2="243.98"/><line x1="22.6" y1="220.32" x2="24.2" y2="220.32"/><line x1="22.6" y1="196.66" x2="24.2" y2="196.66"/><line x1="22.6" y1="173" x2="24.2" y2="173"/></g>
<text transform="translate(20.4 293.8) scale(1 1.060)" fill="#3d8fd8" stroke="#3d8fd8" stroke-width="0.15" font-size="7.4" text-anchor="end">0</text>
<text transform="translate(20.4 270.14) scale(1 1.060)" fill="#3d8fd8" stroke="#3d8fd8" stroke-width="0.15" font-size="7.4" text-anchor="end">1</text>
<text transform="translate(20.4 246.48) scale(1 1.060)" fill="#3d8fd8" stroke="#3d8fd8" stroke-width="0.15" font-size="7.4" text-anchor="end">2</text>
<text transform="translate(20.4 222.82) scale(1 1.060)" fill="#3d8fd8" stroke="#3d8fd8" stroke-width="0.15" font-size="7.4" text-anchor="end">3</text>
<text transform="translate(20.4 199.16) scale(1 1.060)" fill="#3d8fd8" stroke="#3d8fd8" stroke-width="0.15" font-size="7.4" text-anchor="end">4</text>
<text transform="translate(20.4 175.5) scale(1 1.060)" fill="#3d8fd8" stroke="#3d8fd8" stroke-width="0.15" font-size="7.4" text-anchor="end">5</text>
<line x1="151.7" y1="172.6" x2="151.7" y2="291.8" stroke="#e05a22" stroke-width="1.15"/>
<g stroke="#e05a22" stroke-width="0.7"><line x1="151.7" y1="291.3" x2="150.1" y2="291.3"/><line x1="151.7" y1="283.91" x2="150.6" y2="283.91"/><line x1="151.7" y1="276.51" x2="150.6" y2="276.51"/><line x1="151.7" y1="269.12" x2="150.6" y2="269.12"/><line x1="151.7" y1="261.73" x2="150.1" y2="261.73"/><line x1="151.7" y1="254.33" x2="150.6" y2="254.33"/><line x1="151.7" y1="246.94" x2="150.6" y2="246.94"/><line x1="151.7" y1="239.54" x2="150.6" y2="239.54"/><line x1="151.7" y1="232.15" x2="150.1" y2="232.15"/><line x1="151.7" y1="224.76" x2="150.6" y2="224.76"/><line x1="151.7" y1="217.36" x2="150.6" y2="217.36"/><line x1="151.7" y1="209.97" x2="150.6" y2="209.97"/><line x1="151.7" y1="202.57" x2="150.1" y2="202.57"/><line x1="151.7" y1="195.18" x2="150.6" y2="195.18"/><line x1="151.7" y1="187.79" x2="150.6" y2="187.79"/><line x1="151.7" y1="180.39" x2="150.6" y2="180.39"/><line x1="151.7" y1="173" x2="150.1" y2="173"/></g>
<text transform="translate(154.3 293.8) scale(1 1.060)" fill="#e0561c" stroke="#e0561c" stroke-width="0.15" font-size="7.4">0</text>
<text transform="translate(154.3 264.23) scale(1 1.060)" fill="#e0561c" stroke="#e0561c" stroke-width="0.15" font-size="7.4">2</text>
<text transform="translate(154.3 234.65) scale(1 1.060)" fill="#e0561c" stroke="#e0561c" stroke-width="0.15" font-size="7.4">4</text>
<text transform="translate(154.3 205.07) scale(1 1.060)" fill="#e0561c" stroke="#e0561c" stroke-width="0.15" font-size="7.4">6</text>
<text transform="translate(154.3 175.5) scale(1 1.060)" fill="#e0561c" stroke="#e0561c" stroke-width="0.15" font-size="7.4">8</text>
<polyline points="35.55,266.8 61.55,245 87.55,242.1 113.55,218.2 139.55,234.4" fill="none" stroke="#3283d3" stroke-width="1.15" stroke-linejoin="round"/>
<ellipse cx="35.55" cy="266.8" rx="2.15" ry="2.3" fill="#fff" stroke="#3283d3" stroke-width="1.1"/><ellipse cx="61.55" cy="245" rx="2.15" ry="2.3" fill="#fff" stroke="#3283d3" stroke-width="1.1"/><ellipse cx="87.55" cy="242.1" rx="2.15" ry="2.3" fill="#fff" stroke="#3283d3" stroke-width="1.1"/><ellipse cx="113.55" cy="218.2" rx="2.15" ry="2.3" fill="#fff" stroke="#3283d3" stroke-width="1.1"/><ellipse cx="139.55" cy="234.4" rx="2.15" ry="2.3" fill="#fff" stroke="#3283d3" stroke-width="1.1"/>
<polyline points="35.55,260.3 61.55,239.9 87.55,234.9 113.55,214.7 139.55,246.4" fill="none" stroke="#f7c550" stroke-width="1.15" stroke-linejoin="round"/>
<path d="M35.55 257.4L37.5 260.3L35.55 263.2L33.6 260.3Z" fill="#fff" stroke="#f7c550" stroke-width="1.0"/><path d="M61.55 237L63.5 239.9L61.55 242.8L59.6 239.9Z" fill="#fff" stroke="#f7c550" stroke-width="1.0"/><path d="M87.55 232L89.5 234.9L87.55 237.8L85.6 234.9Z" fill="#fff" stroke="#f7c550" stroke-width="1.0"/><path d="M113.55 211.8L115.5 214.7L113.55 217.6L111.6 214.7Z" fill="#fff" stroke="#f7c550" stroke-width="1.0"/><path d="M139.55 243.5L141.5 246.4L139.55 249.3L137.6 246.4Z" fill="#fff" stroke="#f7c550" stroke-width="1.0"/>
<polyline points="35.55,252.1 61.55,230 87.55,225.9 113.55,205.9 139.55,227" fill="none" stroke="#6e6e6e" stroke-width="1.15" stroke-linejoin="round"/>
<rect x="34" y="250.7" width="3.1" height="2.8" fill="#c8c8c8" stroke="#6e6e6e" stroke-width="1.0"/><rect x="60" y="228.6" width="3.1" height="2.8" fill="#c8c8c8" stroke="#6e6e6e" stroke-width="1.0"/><rect x="86" y="224.5" width="3.1" height="2.8" fill="#c8c8c8" stroke="#6e6e6e" stroke-width="1.0"/><rect x="112" y="204.5" width="3.1" height="2.8" fill="#c8c8c8" stroke="#6e6e6e" stroke-width="1.0"/><rect x="138" y="225.6" width="3.1" height="2.8" fill="#c8c8c8" stroke="#6e6e6e" stroke-width="1.0"/>
<text transform="translate(35.55 301.3) scale(1 1.060)" fill="#202020" stroke="#202020" stroke-width="0.15" font-size="7.4" text-anchor="middle">&lt;20</text>
<text transform="translate(61.55 301.3) scale(1 1.060)" fill="#202020" stroke="#202020" stroke-width="0.15" font-size="7.4" text-anchor="middle">&lt;35</text>
<text transform="translate(87.55 301.3) scale(1 1.060)" fill="#202020" stroke="#202020" stroke-width="0.15" font-size="7.4" text-anchor="middle">&lt;50</text>
<text transform="translate(113.55 301.3) scale(1 1.060)" fill="#202020" stroke="#202020" stroke-width="0.15" font-size="7.4" text-anchor="middle">&lt;65</text>
<text transform="translate(139.55 301.3) scale(1 1.060)" fill="#202020" stroke="#202020" stroke-width="0.15" font-size="7.4" text-anchor="middle">&lt;80</text>
<text transform="translate(87.15 310.5)" fill="#202020" stroke="#202020" stroke-width="0.2" font-size="8.2" text-anchor="middle" word-spacing="0.7">(d) CiaoDVD</text>
<text transform="translate(12.6 232.3) rotate(-90)" fill="#3d8fd8" stroke="#3d8fd8" stroke-width="0.12" font-size="8.4" text-anchor="middle">NDCG@20(%)</text>
<text transform="translate(166.7 231.8) rotate(-90)" fill="#e0561c" stroke="#e0561c" stroke-width="0.12" font-size="8.1" text-anchor="middle">Proformance Difference</text>
<rect x="24.9" y="174.7" width="61.7" height="45.2" fill="#fff" stroke="#383838" stroke-width="0.9"/>
<rect x="28.9" y="178.5" width="22.2" height="5" fill="#fdcc63"/>
<rect x="28.9" y="186.9" width="22.2" height="5" fill="#717171"/>
<line x1="28.9" y1="197.8" x2="51.1" y2="197.8" stroke="#3283d3" stroke-width="1.3"/>
<ellipse cx="40" cy="197.8" rx="2.15" ry="2.3" fill="#fff" stroke="#3283d3" stroke-width="1.1"/>
<line x1="28.9" y1="206.2" x2="51.1" y2="206.2" stroke="#f7c550" stroke-width="1.3"/>
<path d="M40 203.3L41.95 206.2L40 209.1L38.05 206.2Z" fill="#fff" stroke="#f7c550" stroke-width="1.0"/>
<line x1="28.9" y1="214.6" x2="51.1" y2="214.6" stroke="#6e6e6e" stroke-width="1.3"/>
<rect x="38.45" y="213.2" width="3.1" height="2.8" fill="#c8c8c8" stroke="#6e6e6e" stroke-width="1.0"/>
<text transform="translate(53.9 184) scale(1 1.060)" fill="#202020" stroke="#202020" stroke-width="0.15" font-size="6.85">Diff1</text>
<text transform="translate(53.9 192.4) scale(1 1.060)" fill="#202020" stroke="#202020" stroke-width="0.15" font-size="6.85">Diff2</text>
<text transform="translate(53.9 200.8) scale(1 1.060)" fill="#202020" stroke="#202020" stroke-width="0.15" font-size="6.85">LightGCN</text>
<text transform="translate(53.9 209.2) scale(1 1.060)" fill="#202020" stroke="#202020" stroke-width="0.15" font-size="6.85">DHCF</text>
<text transform="translate(53.9 217.6) scale(1 1.060)" fill="#202020" stroke="#202020" stroke-width="0.15" font-size="6.85">SHLKR</text>
<g stroke="#e2e2e2" stroke-width="0.7" stroke-dasharray="4 2.5"><line x1="223.35" y1="172.8" x2="223.35" y2="291.1"/><line x1="249.35" y1="172.8" x2="249.35" y2="291.1"/><line x1="275.35" y1="172.8" x2="275.35" y2="291.1"/><line x1="301.35" y1="172.8" x2="301.35" y2="291.1"/><line x1="327.35" y1="172.8" x2="327.35" y2="291.1"/></g>
<g stroke="#d8e7f5" stroke-width="0.8" stroke-dasharray="5 3"><line x1="210.5" y1="261.53" x2="339.5" y2="261.53"/><line x1="210.5" y1="231.95" x2="339.5" y2="231.95"/><line x1="210.5" y1="202.38" x2="339.5" y2="202.38"/></g>
<line x1="210.5" y1="172.8" x2="339.5" y2="172.8" stroke="#3c3c3c" stroke-width="0.9"/>
<line x1="210.5" y1="291.2" x2="339.5" y2="291.2" stroke="#5a8cc6" stroke-width="1.3"/>
<g stroke="#3c3c3c" stroke-width="0.7"><line x1="212.95" y1="172.8" x2="212.95" y2="174.2"/><line x1="212.95" y1="291.1" x2="212.95" y2="289.7"/><line x1="218.15" y1="172.8" x2="218.15" y2="174.2"/><line x1="218.15" y1="291.1" x2="218.15" y2="289.7"/><line x1="223.35" y1="172.8" x2="223.35" y2="174.6"/><line x1="223.35" y1="291.1" x2="223.35" y2="289.3"/><line x1="228.55" y1="172.8" x2="228.55" y2="174.2"/><line x1="228.55" y1="291.1" x2="228.55" y2="289.7"/><line x1="233.75" y1="172.8" x2="233.75" y2="174.2"/><line x1="233.75" y1="291.1" x2="233.75" y2="289.7"/><line x1="238.95" y1="172.8" x2="238.95" y2="174.2"/><line x1="238.95" y1="291.1" x2="238.95" y2="289.7"/><line x1="244.15" y1="172.8" x2="244.15" y2="174.2"/><line x1="244.15" y1="291.1" x2="244.15" y2="289.7"/><line x1="249.35" y1="172.8" x2="249.35" y2="174.6"/><line x1="249.35" y1="291.1" x2="249.35" y2="289.3"/><line x1="254.55" y1="172.8" x2="254.55" y2="174.2"/><line x1="254.55" y1="291.1" x2="254.55" y2="289.7"/><line x1="259.75" y1="172.8" x2="259.75" y2="174.2"/><line x1="259.75" y1="291.1" x2="259.75" y2="289.7"/><line x1="264.95" y1="172.8" x2="264.95" y2="174.2"/><line x1="264.95" y1="291.1" x2="264.95" y2="289.7"/><line x1="270.15" y1="172.8" x2="270.15" y2="174.2"/><line x1="270.15" y1="291.1" x2="270.15" y2="289.7"/><line x1="275.35" y1="172.8" x2="275.35" y2="174.6"/><line x1="275.35" y1="291.1" x2="275.35" y2="289.3"/><line x1="280.55" y1="172.8" x2="280.55" y2="174.2"/><line x1="280.55" y1="291.1" x2="280.55" y2="289.7"/><line x1="285.75" y1="172.8" x2="285.75" y2="174.2"/><line x1="285.75" y1="291.1" x2="285.75" y2="289.7"/><line x1="290.95" y1="172.8" x2="290.95" y2="174.2"/><line x1="290.95" y1="291.1" x2="290.95" y2="289.7"/><line x1="296.15" y1="172.8" x2="296.15" y2="174.2"/><line x1="296.15" y1="291.1" x2="296.15" y2="289.7"/><line x1="301.35" y1="172.8" x2="301.35" y2="174.6"/><line x1="301.35" y1="291.1" x2="301.35" y2="289.3"/><line x1="306.55" y1="172.8" x2="306.55" y2="174.2"/><line x1="306.55" y1="291.1" x2="306.55" y2="289.7"/><line x1="311.75" y1="172.8" x2="311.75" y2="174.2"/><line x1="311.75" y1="291.1" x2="311.75" y2="289.7"/><line x1="316.95" y1="172.8" x2="316.95" y2="174.2"/><line x1="316.95" y1="291.1" x2="316.95" y2="289.7"/><line x1="322.15" y1="172.8" x2="322.15" y2="174.2"/><line x1="322.15" y1="291.1" x2="322.15" y2="289.7"/><line x1="327.35" y1="172.8" x2="327.35" y2="174.6"/><line x1="327.35" y1="291.1" x2="327.35" y2="289.3"/><line x1="332.55" y1="172.8" x2="332.55" y2="174.2"/><line x1="332.55" y1="291.1" x2="332.55" y2="289.7"/><line x1="337.75" y1="172.8" x2="337.75" y2="174.2"/><line x1="337.75" y1="291.1" x2="337.75" y2="289.7"/></g>
<rect x="216.85" y="283.7" width="5.5" height="8.2" fill="#fdcc63"/><rect x="224.35" y="287.8" width="5.5" height="4.1" fill="#717171"/><rect x="242.85" y="272.5" width="5.5" height="19.4" fill="#fdcc63"/><rect x="250.35" y="279.4" width="5.5" height="12.5" fill="#717171"/><rect x="268.85" y="255.7" width="5.5" height="36.2" fill="#fdcc63"/><rect x="276.35" y="276" width="5.5" height="15.9" fill="#717171"/><rect x="294.85" y="255.7" width="5.5" height="36.2" fill="#fdcc63"/><rect x="302.35" y="270" width="5.5" height="21.9" fill="#717171"/><rect x="320.85" y="257.7" width="5.5" height="34.2" fill="#fdcc63"/><rect x="328.35" y="276" width="5.5" height="15.9" fill="#717171"/>
<line x1="210.5" y1="172.4" x2="210.5" y2="291.6" stroke="#3283d3" stroke-width="1.15"/>
<g stroke="#3283d3" stroke-width="0.8"><line x1="210.5" y1="291.1" x2="212.1" y2="291.1"/><line x1="210.5" y1="261.53" x2="212.1" y2="261.53"/><line x1="210.5" y1="231.95" x2="212.1" y2="231.95"/><line x1="210.5" y1="202.38" x2="212.1" y2="202.38"/><line x1="210.5" y1="172.8" x2="212.1" y2="172.8"/></g>
<text transform="translate(208.3 293.6) scale(1 1.060)" fill="#3d8fd8" stroke="#3d8fd8" stroke-width="0.15" font-size="7.4" text-anchor="end">0</text>
<text transform="translate(208.3 264.03) scale(1 1.060)" fill="#3d8fd8" stroke="#3d8fd8" stroke-width="0.15" font-size="7.4" text-anchor="end">1</text>
<text transform="translate(208.3 234.45) scale(1 1.060)" fill="#3d8fd8" stroke="#3d8fd8" stroke-width="0.15" font-size="7.4" text-anchor="end">2</text>
<text transform="translate(208.3 204.88) scale(1 1.060)" fill="#3d8fd8" stroke="#3d8fd8" stroke-width="0.15" font-size="7.4" text-anchor="end">3</text>
<text transform="translate(208.3 175.3) scale(1 1.060)" fill="#3d8fd8" stroke="#3d8fd8" stroke-width="0.15" font-size="7.4" text-anchor="end">4</text>
<line x1="339.5" y1="172.4" x2="339.5" y2="291.6" stroke="#e05a22" stroke-width="1.15"/>
<g stroke="#e05a22" stroke-width="0.7"><line x1="339.5" y1="291.1" x2="337.9" y2="291.1"/><line x1="339.5" y1="283.71" x2="338.4" y2="283.71"/><line x1="339.5" y1="276.31" x2="338.4" y2="276.31"/><line x1="339.5" y1="268.92" x2="338.4" y2="268.92"/><line x1="339.5" y1="261.53" x2="337.9" y2="261.53"/><line x1="339.5" y1="254.13" x2="338.4" y2="254.13"/><line x1="339.5" y1="246.74" x2="338.4" y2="246.74"/><line x1="339.5" y1="239.34" x2="338.4" y2="239.34"/><line x1="339.5" y1="231.95" x2="337.9" y2="231.95"/><line x1="339.5" y1="224.56" x2="338.4" y2="224.56"/><line x1="339.5" y1="217.16" x2="338.4" y2="217.16"/><line x1="339.5" y1="209.77" x2="338.4" y2="209.77"/><line x1="339.5" y1="202.38" x2="337.9" y2="202.38"/><line x1="339.5" y1="194.98" x2="338.4" y2="194.98"/><line x1="339.5" y1="187.59" x2="338.4" y2="187.59"/><line x1="339.5" y1="180.19" x2="338.4" y2="180.19"/><line x1="339.5" y1="172.8" x2="337.9" y2="172.8"/></g>
<text transform="translate(342.1 293.6) scale(1 1.060)" fill="#e0561c" stroke="#e0561c" stroke-width="0.15" font-size="7.4">0</text>
<text transform="translate(342.1 264.03) scale(1 1.060)" fill="#e0561c" stroke="#e0561c" stroke-width="0.15" font-size="7.4">2</text>
<text transform="translate(342.1 234.45) scale(1 1.060)" fill="#e0561c" stroke="#e0561c" stroke-width="0.15" font-size="7.4">4</text>
<text transform="translate(342.1 204.88) scale(1 1.060)" fill="#e0561c" stroke="#e0561c" stroke-width="0.15" font-size="7.4">6</text>
<text transform="translate(342.1 175.3) scale(1 1.060)" fill="#e0561c" stroke="#e0561c" stroke-width="0.15" font-size="7.4">8</text>
<polyline points="223.35,253.5 249.35,247.5 275.35,237 301.35,222.3 327.35,217.9" fill="none" stroke="#3283d3" stroke-width="1.15" stroke-linejoin="round"/>
<ellipse cx="223.35" cy="253.5" rx="2.15" ry="2.3" fill="#fff" stroke="#3283d3" stroke-width="1.1"/><ellipse cx="249.35" cy="247.5" rx="2.15" ry="2.3" fill="#fff" stroke="#3283d3" stroke-width="1.1"/><ellipse cx="275.35" cy="237" rx="2.15" ry="2.3" fill="#fff" stroke="#3283d3" stroke-width="1.1"/><ellipse cx="301.35" cy="222.3" rx="2.15" ry="2.3" fill="#fff" stroke="#3283d3" stroke-width="1.1"/><ellipse cx="327.35" cy="217.9" rx="2.15" ry="2.3" fill="#fff" stroke="#3283d3" stroke-width="1.1"/>
<polyline points="223.35,251.5 249.35,243.1 275.35,226.8 301.35,215.1 327.35,209.4" fill="none" stroke="#f7c550" stroke-width="1.15" stroke-linejoin="round"/>
<path d="M223.35 248.6L225.3 251.5L223.35 254.4L221.4 251.5Z" fill="#fff" stroke="#f7c550" stroke-width="1.0"/><path d="M249.35 240.2L251.3 243.1L249.35 246L247.4 243.1Z" fill="#fff" stroke="#f7c550" stroke-width="1.0"/><path d="M275.35 223.9L277.3 226.8L275.35 229.7L273.4 226.8Z" fill="#fff" stroke="#f7c550" stroke-width="1.0"/><path d="M301.35 212.2L303.3 215.1L301.35 218L299.4 215.1Z" fill="#fff" stroke="#f7c550" stroke-width="1.0"/><path d="M327.35 206.5L329.3 209.4L327.35 212.3L325.4 209.4Z" fill="#fff" stroke="#f7c550" stroke-width="1.0"/>
<polyline points="223.35,249.3 249.35,237.6 275.35,219.4 301.35,203.9 327.35,201" fill="none" stroke="#6e6e6e" stroke-width="1.15" stroke-linejoin="round"/>
<rect x="221.8" y="247.9" width="3.1" height="2.8" fill="#c8c8c8" stroke="#6e6e6e" stroke-width="1.0"/><rect x="247.8" y="236.2" width="3.1" height="2.8" fill="#c8c8c8" stroke="#6e6e6e" stroke-width="1.0"/><rect x="273.8" y="218" width="3.1" height="2.8" fill="#c8c8c8" stroke="#6e6e6e" stroke-width="1.0"/><rect x="299.8" y="202.5" width="3.1" height="2.8" fill="#c8c8c8" stroke="#6e6e6e" stroke-width="1.0"/><rect x="325.8" y="199.6" width="3.1" height="2.8" fill="#c8c8c8" stroke="#6e6e6e" stroke-width="1.0"/>
<text transform="translate(223.35 301.1) scale(1 1.060)" fill="#202020" stroke="#202020" stroke-width="0.15" font-size="7.4" text-anchor="middle">&lt;20</text>
<text transform="translate(249.35 301.1) scale(1 1.060)" fill="#202020" stroke="#202020" stroke-width="0.15" font-size="7.4" text-anchor="middle">&lt;40</text>
<text transform="translate(275.35 301.1) scale(1 1.060)" fill="#202020" stroke="#202020" stroke-width="0.15" font-size="7.4" text-anchor="middle">&lt;60</text>
<text transform="translate(301.35 301.1) scale(1 1.060)" fill="#202020" stroke="#202020" stroke-width="0.15" font-size="7.4" text-anchor="middle">&lt;80</text>
<text transform="translate(327.35 301.1) scale(1 1.060)" fill="#202020" stroke="#202020" stroke-width="0.15" font-size="7.4" text-anchor="middle">&lt;100</text>
<text transform="translate(275 310.3)" fill="#202020" stroke="#202020" stroke-width="0.2" font-size="8.2" text-anchor="middle" word-spacing="0.7">(e) Douban</text>
<text transform="translate(200.5 232.95) rotate(-90)" fill="#3d8fd8" stroke="#3d8fd8" stroke-width="0.12" font-size="8.4" text-anchor="middle">Recall@20(%)</text>
<text transform="translate(354.5 231.8) rotate(-90)" fill="#e0561c" stroke="#e0561c" stroke-width="0.12" font-size="8.1" text-anchor="middle">Proformance Difference</text>
<rect x="213.7" y="174.9" width="62.1" height="45.2" fill="#fff" stroke="#383838" stroke-width="0.9"/>
<rect x="217.7" y="178.7" width="22.2" height="5" fill="#fdcc63"/>
<rect x="217.7" y="187.1" width="22.2" height="5" fill="#717171"/>
<line x1="217.7" y1="198" x2="239.9" y2="198" stroke="#3283d3" stroke-width="1.3"/>
<ellipse cx="228.8" cy="198" rx="2.15" ry="2.3" fill="#fff" stroke="#3283d3" stroke-width="1.1"/>
<line x1="217.7" y1="206.4" x2="239.9" y2="206.4" stroke="#f7c550" stroke-width="1.3"/>
<path d="M228.8 203.5L230.75 206.4L228.8 209.3L226.85 206.4Z" fill="#fff" stroke="#f7c550" stroke-width="1.0"/>
<line x1="217.7" y1="214.8" x2="239.9" y2="214.8" stroke="#6e6e6e" stroke-width="1.3"/>
<rect x="227.25" y="213.4" width="3.1" height="2.8" fill="#c8c8c8" stroke="#6e6e6e" stroke-width="1.0"/>
<text transform="translate(242.7 184.2) scale(1 1.060)" fill="#202020" stroke="#202020" stroke-width="0.15" font-size="6.85">Diff1</text>
<text transform="translate(242.7 192.6) scale(1 1.060)" fill="#202020" stroke="#202020" stroke-width="0.15" font-size="6.85">Diff2</text>
<text transform="translate(242.7 201) scale(1 1.060)" fill="#202020" stroke="#202020" stroke-width="0.15" font-size="6.85">LightGCN</text>
<text transform="translate(242.7 209.4) scale(1 1.060)" fill="#202020" stroke="#202020" stroke-width="0.15" font-size="6.85">DHCF</text>
<text transform="translate(242.7 217.8) scale(1 1.060)" fill="#202020" stroke="#202020" stroke-width="0.15" font-size="6.85">SHLKR</text>
<g stroke="#e2e2e2" stroke-width="0.7" stroke-dasharray="4 2.5"><line x1="411" y1="172.8" x2="411" y2="291.4"/><line x1="437" y1="172.8" x2="437" y2="291.4"/><line x1="463" y1="172.8" x2="463" y2="291.4"/><line x1="489" y1="172.8" x2="489" y2="291.4"/><line x1="515" y1="172.8" x2="515" y2="291.4"/></g>
<g stroke="#d8e7f5" stroke-width="0.8" stroke-dasharray="5 3"><line x1="398.2" y1="261.75" x2="527" y2="261.75"/><line x1="398.2" y1="232.1" x2="527" y2="232.1"/><line x1="398.2" y1="202.45" x2="527" y2="202.45"/></g>
<line x1="398.2" y1="172.8" x2="527" y2="172.8" stroke="#3c3c3c" stroke-width="0.9"/>
<line x1="398.2" y1="291.5" x2="527" y2="291.5" stroke="#5a8cc6" stroke-width="1.3"/>
<g stroke="#3c3c3c" stroke-width="0.7"><line x1="400.6" y1="172.8" x2="400.6" y2="174.2"/><line x1="400.6" y1="291.4" x2="400.6" y2="290"/><line x1="405.8" y1="172.8" x2="405.8" y2="174.2"/><line x1="405.8" y1="291.4" x2="405.8" y2="290"/><line x1="411" y1="172.8" x2="411" y2="174.6"/><line x1="411" y1="291.4" x2="411" y2="289.6"/><line x1="416.2" y1="172.8" x2="416.2" y2="174.2"/><line x1="416.2" y1="291.4" x2="416.2" y2="290"/><line x1="421.4" y1="172.8" x2="421.4" y2="174.2"/><line x1="421.4" y1="291.4" x2="421.4" y2="290"/><line x1="426.6" y1="172.8" x2="426.6" y2="174.2"/><line x1="426.6" y1="291.4" x2="426.6" y2="290"/><line x1="431.8" y1="172.8" x2="431.8" y2="174.2"/><line x1="431.8" y1="291.4" x2="431.8" y2="290"/><line x1="437" y1="172.8" x2="437" y2="174.6"/><line x1="437" y1="291.4" x2="437" y2="289.6"/><line x1="442.2" y1="172.8" x2="442.2" y2="174.2"/><line x1="442.2" y1="291.4" x2="442.2" y2="290"/><line x1="447.4" y1="172.8" x2="447.4" y2="174.2"/><line x1="447.4" y1="291.4" x2="447.4" y2="290"/><line x1="452.6" y1="172.8" x2="452.6" y2="174.2"/><line x1="452.6" y1="291.4" x2="452.6" y2="290"/><line x1="457.8" y1="172.8" x2="457.8" y2="174.2"/><line x1="457.8" y1="291.4" x2="457.8" y2="290"/><line x1="463" y1="172.8" x2="463" y2="174.6"/><line x1="463" y1="291.4" x2="463" y2="289.6"/><line x1="468.2" y1="172.8" x2="468.2" y2="174.2"/><line x1="468.2" y1="291.4" x2="468.2" y2="290"/><line x1="473.4" y1="172.8" x2="473.4" y2="174.2"/><line x1="473.4" y1="291.4" x2="473.4" y2="290"/><line x1="478.6" y1="172.8" x2="478.6" y2="174.2"/><line x1="478.6" y1="291.4" x2="478.6" y2="290"/><line x1="483.8" y1="172.8" x2="483.8" y2="174.2"/><line x1="483.8" y1="291.4" x2="483.8" y2="290"/><line x1="489" y1="172.8" x2="489" y2="174.6"/><line x1="489" y1="291.4" x2="489" y2="289.6"/><line x1="494.2" y1="172.8" x2="494.2" y2="174.2"/><line x1="494.2" y1="291.4" x2="494.2" y2="290"/><line x1="499.4" y1="172.8" x2="499.4" y2="174.2"/><line x1="499.4" y1="291.4" x2="499.4" y2="290"/><line x1="504.6" y1="172.8" x2="504.6" y2="174.2"/><line x1="504.6" y1="291.4" x2="504.6" y2="290"/><line x1="509.8" y1="172.8" x2="509.8" y2="174.2"/><line x1="509.8" y1="291.4" x2="509.8" y2="290"/><line x1="515" y1="172.8" x2="515" y2="174.6"/><line x1="515" y1="291.4" x2="515" y2="289.6"/><line x1="520.2" y1="172.8" x2="520.2" y2="174.2"/><line x1="520.2" y1="291.4" x2="520.2" y2="290"/><line x1="525.4" y1="172.8" x2="525.4" y2="174.2"/><line x1="525.4" y1="291.4" x2="525.4" y2="290"/></g>
<rect x="404.5" y="285.7" width="5.5" height="6.5" fill="#fdcc63"/><rect x="412" y="287.8" width="5.5" height="4.4" fill="#717171"/><rect x="430.5" y="281.9" width="5.5" height="10.3" fill="#fdcc63"/><rect x="438" y="286.2" width="5.5" height="6" fill="#717171"/><rect x="456.5" y="267.9" width="5.5" height="24.3" fill="#fdcc63"/><rect x="464" y="273.8" width="5.5" height="18.4" fill="#717171"/><rect x="482.5" y="272.2" width="5.5" height="20" fill="#fdcc63"/><rect x="490" y="278.1" width="5.5" height="14.1" fill="#717171"/><rect x="508.5" y="278.3" width="5.5" height="13.9" fill="#fdcc63"/><rect x="516" y="284.7" width="5.5" height="7.5" fill="#717171"/>
<line x1="398.2" y1="172.4" x2="398.2" y2="291.9" stroke="#3283d3" stroke-width="1.15"/>
<g stroke="#3283d3" stroke-width="0.8"><line x1="398.2" y1="291.4" x2="399.8" y2="291.4"/><line x1="398.2" y1="261.75" x2="399.8" y2="261.75"/><line x1="398.2" y1="232.1" x2="399.8" y2="232.1"/><line x1="398.2" y1="202.45" x2="399.8" y2="202.45"/><line x1="398.2" y1="172.8" x2="399.8" y2="172.8"/></g>
<text transform="translate(396 293.9) scale(1 1.060)" fill="#3d8fd8" stroke="#3d8fd8" stroke-width="0.15" font-size="7.4" text-anchor="end">0</text>
<text transform="translate(396 264.25) scale(1 1.060)" fill="#3d8fd8" stroke="#3d8fd8" stroke-width="0.15" font-size="7.4" text-anchor="end">1</text>
<text transform="translate(396 234.6) scale(1 1.060)" fill="#3d8fd8" stroke="#3d8fd8" stroke-width="0.15" font-size="7.4" text-anchor="end">2</text>
<text transform="translate(396 204.95) scale(1 1.060)" fill="#3d8fd8" stroke="#3d8fd8" stroke-width="0.15" font-size="7.4" text-anchor="end">3</text>
<text transform="translate(396 175.3) scale(1 1.060)" fill="#3d8fd8" stroke="#3d8fd8" stroke-width="0.15" font-size="7.4" text-anchor="end">4</text>
<line x1="527" y1="172.4" x2="527" y2="291.9" stroke="#e05a22" stroke-width="1.15"/>
<g stroke="#e05a22" stroke-width="0.7"><line x1="527" y1="291.4" x2="525.4" y2="291.4"/><line x1="527" y1="283.99" x2="525.9" y2="283.99"/><line x1="527" y1="276.57" x2="525.9" y2="276.57"/><line x1="527" y1="269.16" x2="525.9" y2="269.16"/><line x1="527" y1="261.75" x2="525.4" y2="261.75"/><line x1="527" y1="254.34" x2="525.9" y2="254.34"/><line x1="527" y1="246.92" x2="525.9" y2="246.92"/><line x1="527" y1="239.51" x2="525.9" y2="239.51"/><line x1="527" y1="232.1" x2="525.4" y2="232.1"/><line x1="527" y1="224.69" x2="525.9" y2="224.69"/><line x1="527" y1="217.28" x2="525.9" y2="217.28"/><line x1="527" y1="209.86" x2="525.9" y2="209.86"/><line x1="527" y1="202.45" x2="525.4" y2="202.45"/><line x1="527" y1="195.04" x2="525.9" y2="195.04"/><line x1="527" y1="187.62" x2="525.9" y2="187.62"/><line x1="527" y1="180.21" x2="525.9" y2="180.21"/><line x1="527" y1="172.8" x2="525.4" y2="172.8"/></g>
<text transform="translate(529.6 293.9) scale(1 1.060)" fill="#e0561c" stroke="#e0561c" stroke-width="0.15" font-size="7.4">0</text>
<text transform="translate(529.6 264.25) scale(1 1.060)" fill="#e0561c" stroke="#e0561c" stroke-width="0.15" font-size="7.4">2</text>
<text transform="translate(529.6 234.6) scale(1 1.060)" fill="#e0561c" stroke="#e0561c" stroke-width="0.15" font-size="7.4">4</text>
<text transform="translate(529.6 204.95) scale(1 1.060)" fill="#e0561c" stroke="#e0561c" stroke-width="0.15" font-size="7.4">6</text>
<text transform="translate(529.6 175.3) scale(1 1.060)" fill="#e0561c" stroke="#e0561c" stroke-width="0.15" font-size="7.4">8</text>
<polyline points="411,254.3 437,250.3 463,244.2 489,239.3 515,232.8" fill="none" stroke="#3283d3" stroke-width="1.15" stroke-linejoin="round"/>
<ellipse cx="411" cy="254.3" rx="2.15" ry="2.3" fill="#fff" stroke="#3283d3" stroke-width="1.1"/><ellipse cx="437" cy="250.3" rx="2.15" ry="2.3" fill="#fff" stroke="#3283d3" stroke-width="1.1"/><ellipse cx="463" cy="244.2" rx="2.15" ry="2.3" fill="#fff" stroke="#3283d3" stroke-width="1.1"/><ellipse cx="489" cy="239.3" rx="2.15" ry="2.3" fill="#fff" stroke="#3283d3" stroke-width="1.1"/><ellipse cx="515" cy="232.8" rx="2.15" ry="2.3" fill="#fff" stroke="#3283d3" stroke-width="1.1"/>
<polyline points="411,253.2 437,248.7 463,240.8 489,235.7 515,230.4" fill="none" stroke="#f7c550" stroke-width="1.15" stroke-linejoin="round"/>
<path d="M411 250.3L412.95 253.2L411 256.1L409.05 253.2Z" fill="#fff" stroke="#f7c550" stroke-width="1.0"/><path d="M437 245.8L438.95 248.7L437 251.6L435.05 248.7Z" fill="#fff" stroke="#f7c550" stroke-width="1.0"/><path d="M463 237.9L464.95 240.8L463 243.7L461.05 240.8Z" fill="#fff" stroke="#f7c550" stroke-width="1.0"/><path d="M489 232.8L490.95 235.7L489 238.6L487.05 235.7Z" fill="#fff" stroke="#f7c550" stroke-width="1.0"/><path d="M515 227.5L516.95 230.4L515 233.3L513.05 230.4Z" fill="#fff" stroke="#f7c550" stroke-width="1.0"/>
<polyline points="411,250.3 437,245.4 463,231.7 489,229 515,225.3" fill="none" stroke="#6e6e6e" stroke-width="1.15" stroke-linejoin="round"/>
<rect x="409.45" y="248.9" width="3.1" height="2.8" fill="#c8c8c8" stroke="#6e6e6e" stroke-width="1.0"/><rect x="435.45" y="244" width="3.1" height="2.8" fill="#c8c8c8" stroke="#6e6e6e" stroke-width="1.0"/><rect x="461.45" y="230.3" width="3.1" height="2.8" fill="#c8c8c8" stroke="#6e6e6e" stroke-width="1.0"/><rect x="487.45" y="227.6" width="3.1" height="2.8" fill="#c8c8c8" stroke="#6e6e6e" stroke-width="1.0"/><rect x="513.45" y="223.9" width="3.1" height="2.8" fill="#c8c8c8" stroke="#6e6e6e" stroke-width="1.0"/>
<text transform="translate(411 301.4) scale(1 1.060)" fill="#202020" stroke="#202020" stroke-width="0.15" font-size="7.4" text-anchor="middle">&lt;20</text>
<text transform="translate(437 301.4) scale(1 1.060)" fill="#202020" stroke="#202020" stroke-width="0.15" font-size="7.4" text-anchor="middle">&lt;40</text>
<text transform="translate(463 301.4) scale(1 1.060)" fill="#202020" stroke="#202020" stroke-width="0.15" font-size="7.4" text-anchor="middle">&lt;60</text>
<text transform="translate(489 301.4) scale(1 1.060)" fill="#202020" stroke="#202020" stroke-width="0.15" font-size="7.4" text-anchor="middle">&lt;80</text>
<text transform="translate(515 301.4) scale(1 1.060)" fill="#202020" stroke="#202020" stroke-width="0.15" font-size="7.4" text-anchor="middle">&lt;100</text>
<text transform="translate(462.6 310.6)" fill="#202020" stroke="#202020" stroke-width="0.2" font-size="8.2" text-anchor="middle" word-spacing="0.7">(f) Douban</text>
<text transform="translate(388.2 232.25) rotate(-90)" fill="#3d8fd8" stroke="#3d8fd8" stroke-width="0.12" font-size="8.4" text-anchor="middle">NDCG@20(%)</text>
<text transform="translate(542 231.8) rotate(-90)" fill="#e0561c" stroke="#e0561c" stroke-width="0.12" font-size="8.1" text-anchor="middle">Proformance Difference</text>
<rect x="400.3" y="175.3" width="62.1" height="45.2" fill="#fff" stroke="#383838" stroke-width="0.9"/>
<rect x="404.3" y="179.1" width="22.2" height="5" fill="#fdcc63"/>
<rect x="404.3" y="187.5" width="22.2" height="5" fill="#717171"/>
<line x1="404.3" y1="198.4" x2="426.5" y2="198.4" stroke="#3283d3" stroke-width="1.3"/>
<ellipse cx="415.4" cy="198.4" rx="2.15" ry="2.3" fill="#fff" stroke="#3283d3" stroke-width="1.1"/>
<line x1="404.3" y1="206.8" x2="426.5" y2="206.8" stroke="#f7c550" stroke-width="1.3"/>
<path d="M415.4 203.9L417.35 206.8L415.4 209.7L413.45 206.8Z" fill="#fff" stroke="#f7c550" stroke-width="1.0"/>
<line x1="404.3" y1="215.2" x2="426.5" y2="215.2" stroke="#6e6e6e" stroke-width="1.3"/>
<rect x="413.85" y="213.8" width="3.1" height="2.8" fill="#c8c8c8" stroke="#6e6e6e" stroke-width="1.0"/>
<text transform="translate(429.3 184.6) scale(1 1.060)" fill="#202020" stroke="#202020" stroke-width="0.15" font-size="6.85">Diff1</text>
<text transform="translate(429.3 193) scale(1 1.060)" fill="#202020" stroke="#202020" stroke-width="0.15" font-size="6.85">Diff2</text>
<text transform="translate(429.3 201.4) scale(1 1.060)" fill="#202020" stroke="#202020" stroke-width="0.15" font-size="6.85">LightGCN</text>
<text transform="translate(429.3 209.8) scale(1 1.060)" fill="#202020" stroke="#202020" stroke-width="0.15" font-size="6.85">DHCF</text>
<text transform="translate(429.3 218.2) scale(1 1.060)" fill="#202020" stroke="#202020" stroke-width="0.15" font-size="6.85">SHLKR</text>
</svg>
</body></html>
